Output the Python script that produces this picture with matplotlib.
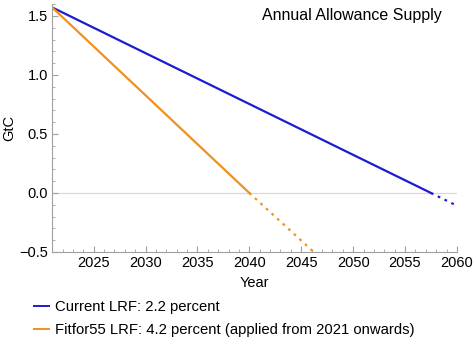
import numpy as np
import matplotlib.pyplot as plt
from matplotlib.ticker import MultipleLocator
from matplotlib.lines import Line2D

plt.rcParams['font.family'] = ['Liberation Sans', 'DejaVu Sans']

# Annual allowance supply (GtC) under the two linear reduction factors
current_years = [2021, 2057.5]
current_supply = [1.572, 0.0]
current_ext_years = [2057.5, 2060]
current_ext_supply = [0.0, -0.108]

fitfor55_years = [2021, 2040]
fitfor55_supply = [1.572, 0.0]
fitfor55_ext_years = [2040, 2046.2]
fitfor55_ext_supply = [0.0, -0.5]

labels = ['Current LRF: 2.2 percent',
          'Fitfor55 LRF: 4.2 percent (applied from 2021 onwards)']

blue = '#1c1cd2'
orange = '#f0901e'
gray = '#a0a0a0'

fig = plt.figure(figsize=(4.74, 3.41), dpi=100)
ax = fig.add_axes([0.110, 0.261, 0.854, 0.727])

ax.axhline(0, color='#d8d8d8', lw=0.9, zorder=1)
ax.plot(current_years, current_supply, color=blue, lw=1.6)
ax.plot(current_ext_years, current_ext_supply, color=blue, lw=1.6, ls=(0, (1.2, 2.2)))
ax.plot(fitfor55_years, fitfor55_supply, color=orange, lw=1.6)
ax.plot(fitfor55_ext_years, fitfor55_ext_supply, color=orange, lw=1.6, ls=(0, (1.2, 2.2)))

ax.set_xlim(2021, 2060)
ax.set_ylim(-0.5, 1.6)
ax.xaxis.set_major_locator(MultipleLocator(5))
ax.xaxis.set_minor_locator(MultipleLocator(1))
ax.yaxis.set_major_locator(MultipleLocator(0.5))
ax.yaxis.set_minor_locator(MultipleLocator(0.1))
ax.yaxis.set_major_formatter(lambda v, p: f'{v:.1f}'.replace('-', '\u2212'))

for s in ['top', 'right']:
    ax.spines[s].set_visible(False)
for s in ['left', 'bottom']:
    ax.spines[s].set_color(gray)
    ax.spines[s].set_linewidth(0.8)
ax.tick_params(which='major', direction='in', length=4, color=gray, labelsize=10.5, pad=3)
ax.tick_params(which='minor', direction='in', length=2, color=gray)

ax.set_xlabel('Year', fontsize=10.5, labelpad=4)
ax.set_ylabel('GtC', fontsize=10.5, labelpad=2)
ax.text(0.741, 0.985, 'Annual Allowance Supply', transform=ax.transAxes,
        ha='center', va='top', fontsize=11.5)

handles = [Line2D([], [], color=blue, lw=1.4), Line2D([], [], color=orange, lw=1.4)]
fig.legend(handles, labels, loc='upper left', bbox_to_anchor=(0.071, 0.12),
           frameon=False, fontsize=10.7, handlelength=1.0, handletextpad=0.45,
           labelspacing=0.6, borderaxespad=0, borderpad=0)

fig.savefig('out.png', dpi=100)
